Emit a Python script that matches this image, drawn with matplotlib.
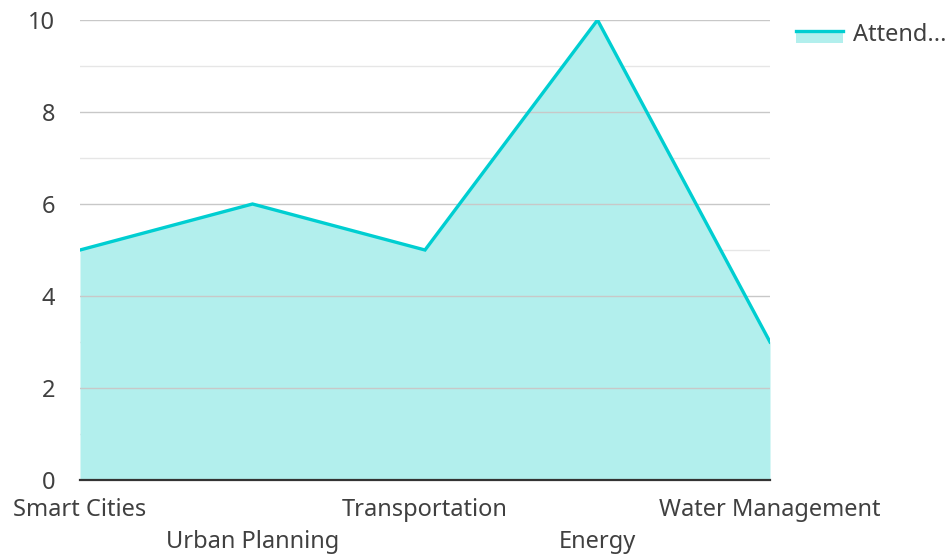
import matplotlib.pyplot as plt
from matplotlib.patches import Rectangle
from matplotlib.lines import Line2D
from matplotlib.legend_handler import HandlerBase

plt.rcParams['font.family'] = ['Noto Sans', 'DejaVu Sans']

categories = ["Smart Cities", "Urban Planning", "Transportation", "Energy", "Water Management"]
attendees = [5, 6, 5, 10, 3]
series_name = "Attend..."

line_color = "#00CED1"
fill_color = "#B2EFED"
fs = 17


class AreaHandler(HandlerBase):
    # legend swatch: light fill with the line along its top
    def create_artists(self, legend, orig, xd, yd, width, height, fontsize, trans):
        rect = Rectangle((xd, yd - height * 0.1), width, height * 0.7, facecolor=fill_color,
                         edgecolor="none", transform=trans)
        ln = Line2D([xd, xd + width], [yd + height * 0.6] * 2, color=line_color,
                    linewidth=2.4, transform=trans)
        return [rect, ln]


fig = plt.figure(figsize=(9.5, 5.55), dpi=100)
ax = fig.add_axes([80 / 950, 75 / 555, 690 / 950, 460 / 555])

x = list(range(len(categories)))
ax.fill_between(x, attendees, 0, color=fill_color, linewidth=0, zorder=1)
ax.plot(x, attendees, color=line_color, linewidth=2.4, zorder=3, solid_joinstyle="miter")

ax.set_xlim(0, len(categories) - 1)
ax.set_ylim(0, 10)

for v in range(1, 11):
    ax.axhline(v, color="#C8C8C8" if v % 2 == 0 else "#E6E6E6", linewidth=1,
               zorder=2 if v % 2 == 0 else 0.5)

ax.set_yticks(range(0, 11, 2))
ax.set_xticks(x)
ax.set_xticklabels(categories)
ax.tick_params(axis="both", length=0, labelsize=fs, labelcolor="#404040")
ax.tick_params(axis="y", pad=18)
for i, t in enumerate(ax.xaxis.get_major_ticks()):
    t.set_pad(13 if i % 2 == 0 else 36)

for s in ["top", "right", "left"]:
    ax.spines[s].set_visible(False)
ax.spines["bottom"].set_color("#333333")
ax.spines["bottom"].set_linewidth(1.6)
ax.spines["bottom"].set_zorder(4)

handle = Rectangle((0, 0), 1, 1)
fig.legend([handle], [series_name], handler_map={Rectangle: AreaHandler()},
           loc="upper left", bbox_to_anchor=(796 / 950, 1 - 23 / 555), frameon=False,
           borderaxespad=0, borderpad=0, fontsize=fs, labelcolor="#404040",
           handlelength=2.0, handletextpad=0.4)

fig.savefig("out.png", dpi=100)
